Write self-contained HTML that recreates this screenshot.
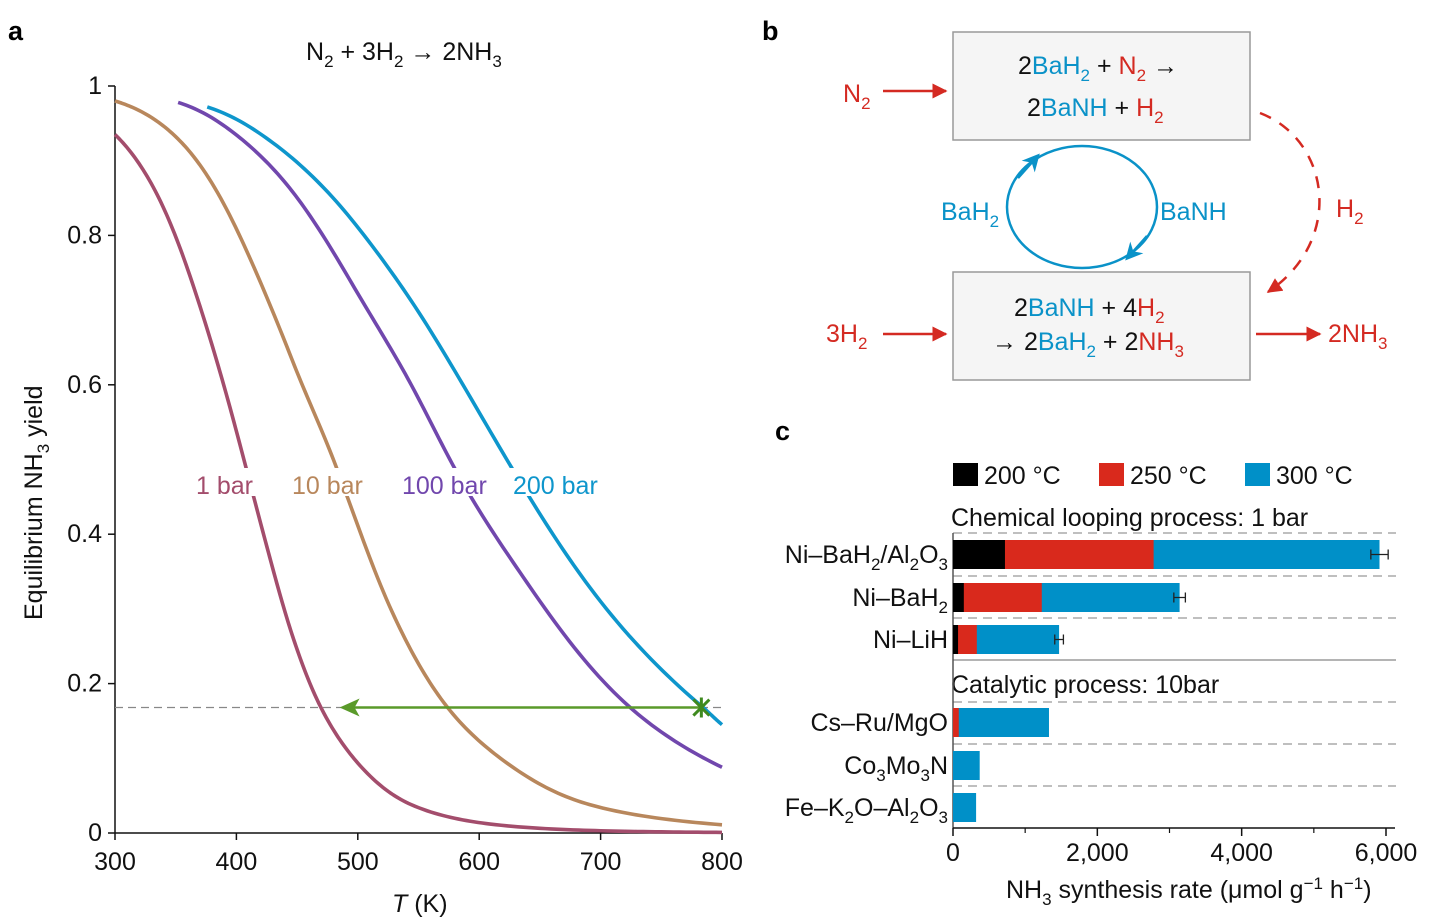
<!DOCTYPE html>
<html><head><meta charset="utf-8"><style>
body{margin:0;background:#fff}
svg{display:block;font-family:"Liberation Sans",Arial,sans-serif}
.t{font-size:25px;fill:#111}
.sb{font-size:17px}
</style></head><body>
<svg id="fig" width="1432" height="924" viewBox="0 0 1432 924">
<defs>
<marker id="ar" viewBox="0 0 10 10" refX="9" refY="5" markerWidth="6" markerHeight="6" orient="auto"><path d="M0,0L10,5L0,10z" fill="#d42a22"/></marker>
<marker id="ab" viewBox="0 0 10 10" refX="5" refY="5" markerWidth="7" markerHeight="7" orient="auto"><path d="M0,0L10,5L0,10L3,5z" fill="#0a92c8"/></marker>
</defs>
<text x="8" y="40" style="font-size:27px;font-weight:bold">a</text>
<text x="762" y="40" style="font-size:27px;font-weight:bold">b</text>
<text x="775" y="440" style="font-size:27px;font-weight:bold">c</text>

<g id="pa">
<text class="t" x="306" y="60">N<tspan class="sb" dy="7">2</tspan><tspan dy="-7"> + 3H</tspan><tspan class="sb" dy="7">2</tspan><tspan dy="-7"> → 2NH</tspan><tspan class="sb" dy="7">3</tspan></text>
<g id="axA"></g>
<text class="t" transform="translate(42,620) rotate(-90)">Equilibrium NH<tspan class="sb" dy="7">3</tspan><tspan dy="-7"> yield</tspan></text>
<text class="t" x="392" y="912"><tspan font-style="italic">T</tspan> (K)</text>
<g id="curves"></g>
</g>

<g>
<rect x="953" y="32" width="297" height="108" fill="#f5f5f5" stroke="#999" stroke-width="1.5"/>
<rect x="953" y="272" width="297" height="108" fill="#f5f5f5" stroke="#999" stroke-width="1.5"/>
<text class="t" x="1018" y="74">2<tspan fill="#0a92c8">BaH</tspan><tspan class="sb" fill="#0a92c8" dy="7">2</tspan><tspan dy="-7"> + </tspan><tspan fill="#d42a22">N</tspan><tspan class="sb" fill="#d42a22" dy="7">2</tspan><tspan dy="-7"> →</tspan></text>
<text class="t" x="1027" y="116">2<tspan fill="#0a92c8">BaNH</tspan> + <tspan fill="#d42a22">H</tspan><tspan class="sb" fill="#d42a22" dy="7">2</tspan></text>
<text class="t" x="1014" y="316">2<tspan fill="#0a92c8">BaNH</tspan> + 4<tspan fill="#d42a22">H</tspan><tspan class="sb" fill="#d42a22" dy="7">2</tspan></text>
<text class="t" x="992" y="350">→ 2<tspan fill="#0a92c8">BaH</tspan><tspan class="sb" fill="#0a92c8" dy="7">2</tspan><tspan dy="-7"> + 2</tspan><tspan fill="#d42a22">NH</tspan><tspan class="sb" fill="#d42a22" dy="7">3</tspan></text>
<text class="t" x="843" y="102" style="fill:#d42a22">N<tspan class="sb" dy="7">2</tspan></text>
<line x1="883" y1="91" x2="946" y2="91" stroke="#d42a22" stroke-width="2.5" marker-end="url(#ar)"/>
<text class="t" x="826" y="342" style="fill:#d42a22">3H<tspan class="sb" dy="7">2</tspan></text>
<line x1="883" y1="334" x2="946" y2="334" stroke="#d42a22" stroke-width="2.5" marker-end="url(#ar)"/>
<line x1="1256" y1="334" x2="1320" y2="334" stroke="#d42a22" stroke-width="2.5" marker-end="url(#ar)"/>
<text class="t" x="1328" y="342" style="fill:#d42a22">2NH<tspan class="sb" dy="7">3</tspan></text>
<path d="M1260,113 C1330,140 1345,240 1268,292" fill="none" stroke="#d42a22" stroke-width="2.5" stroke-dasharray="12,10" marker-end="url(#ar)"/>
<rect x="1332" y="190" width="40" height="40" fill="#fff"/>
<text class="t" x="1336" y="217" style="fill:#d42a22">H<tspan class="sb" dy="7">2</tspan></text>
<ellipse cx="1082" cy="207" rx="75" ry="61" fill="none" stroke="#0a92c8" stroke-width="2.5"/>
<path d="M1018,178 L1034,160" stroke="#0a92c8" stroke-width="2.5" marker-end="url(#ab)"/>
<path d="M1147,236 L1131,254" stroke="#0a92c8" stroke-width="2.5" marker-end="url(#ab)"/>
<text class="t" x="941" y="220" style="fill:#0a92c8">BaH<tspan class="sb" dy="7">2</tspan></text>
<text class="t" x="1160" y="220" style="fill:#0a92c8">BaNH</text>
</g>

<g id="pc">
<rect x="953" y="463" width="25" height="23" fill="#000"/>
<text class="t" x="984" y="484">200 °C</text>
<rect x="1099" y="463" width="25" height="23" fill="#d9291c"/>
<text class="t" x="1130" y="484">250 °C</text>
<rect x="1245" y="463" width="25" height="23" fill="#0090c8"/>
<text class="t" x="1276" y="484">300 °C</text>
<text class="t" x="951" y="526">Chemical looping process: 1 bar</text>
<text class="t" x="951" y="693">Catalytic process: 10bar</text>
<g id="barsC"></g>
<text class="t" x="1006" y="898">NH<tspan class="sb" dy="7">3</tspan><tspan dy="-7"> synthesis rate (μmol g</tspan><tspan class="sb" dy="-9">−1</tspan><tspan dy="9"> h</tspan><tspan class="sb" dy="-9">−1</tspan><tspan dy="9">)</tspan></text>
</g>
</svg>
<script>
const xTicksA = [300,400,500,600,700,800];
const yTicksA = [0,0.2,0.4,0.6,0.8,1];
const yTickLabelsA = ["0","0.2","0.4","0.6","0.8","1"];
const T1 = [300,333,365,398,424,447,469,502,544,609,700,800];
const Y1 = [0.935,0.86,0.73,0.55,0.39,0.26,0.17,0.09,0.038,0.012,0.003,0.0008];
const T10 = [300,355,404,446,482,528,573,626,691,800];
const Y10 = [0.98,0.924,0.795,0.633,0.491,0.297,0.17,0.09,0.038,0.011];
const T100 = [352,398,446,495,544,586,642,723,800];
const Y100 = [0.978,0.937,0.859,0.736,0.6,0.47,0.329,0.17,0.088];
const T200 = [376,430,495,560,626,691,783,800];
const Y200 = [0.972,0.924,0.821,0.672,0.491,0.329,0.17,0.145];
const seriesNames = ["1 bar","10 bar","100 bar","200 bar"];
const refYield = 0.168;
const arrowFromT = 783, arrowToT = 485;

const NS="http://www.w3.org/2000/svg";
function mk(tag, attrs, parent, txt){const e=document.createElementNS(NS,tag);for(const k in attrs)e.setAttribute(k,attrs[k]);if(txt!==undefined)e.textContent=txt;parent.appendChild(e);return e;}
const xA = t => 115 + (t-300)/500*607;
const yA = v => 833 - v*747;

const axA=document.getElementById('axA');
let l=mk('line',{x1:115,y1:86,x2:115,y2:833,stroke:'#111','stroke-width':1.5},axA);


l=mk('line',{x1:115,y1:833,x2:722,y2:833,stroke:'#111','stroke-width':1.5},axA);


xTicksA.forEach(t=>{
  mk('line',{x1:xA(t),y1:833,x2:xA(t),y2:840,stroke:'#111','stroke-width':1.5},axA);
  const tx=mk('text',{x:xA(t),y:870,'text-anchor':'middle',class:'t'},axA,String(t));
  
  
});
yTicksA.forEach((v,i)=>{
  mk('line',{x1:108,y1:yA(v),x2:115,y2:yA(v),stroke:'#111','stroke-width':1.5},axA);
  const tx=mk('text',{x:102,y:yA(v)+8,'text-anchor':'end',class:'t'},axA,yTickLabelsA[i]);
  
  
});
const cg=document.getElementById('curves');
let dl=mk('line',{x1:115,y1:yA(refYield),x2:722,y2:yA(refYield),stroke:'#888','stroke-width':1.2,'stroke-dasharray':'8,5'},cg);


const cols=['#a34d6c','#b8875c','#7147ad','#0e96cc'];
const Ts=[T1,T10,T100,T200], Ys=[Y1,Y10,Y100,Y200];
const labelX=[196,292,402,513];
const logit=v=>Math.log(v/(1-v)), inv=z=>1/(1+Math.exp(-z));
function smoothPath(T,Y){
  const z=Y.map(logit), n=T.length, m=[];
  for(let i=0;i<n;i++){const a=Math.max(0,i-1),b=Math.min(n-1,i+1);m[i]=(z[b]-z[a])/(T[b]-T[a]);}
  let d='';
  for(let i=0;i<n-1;i++){const h=T[i+1]-T[i];
    for(let k=0;k<=20;k++){if(i>0&&k===0)continue;const u=k/20,u2=u*u,u3=u2*u;
      const zz=(2*u3-3*u2+1)*z[i]+(u3-2*u2+u)*h*m[i]+(-2*u3+3*u2)*z[i+1]+(u3-u2)*h*m[i+1];
      d+=(d?' L':'M')+xA(T[i]+u*h).toFixed(2)+','+yA(inv(zz)).toFixed(2);}
  }
  return d;}
Ts.forEach((T,s)=>{
  const p=mk('path',{d:smoothPath(T,Ys[s]),fill:'none',stroke:cols[s],'stroke-width':3.6,'stroke-linejoin':'round'},cg);
  
  
  mk('rect',{x:labelX[s]-4,y:468,width:seriesNames[s].length*13.8+6,height:28,fill:'#fff'},cg);
  const tx=mk('text',{x:labelX[s],y:494,class:'t',style:'fill:'+cols[s]},cg,seriesNames[s]);
  
  
});
let ar=mk('path',{d:`M${xA(arrowFromT)},${yA(refYield)} L${xA(arrowToT)+14},${yA(refYield)}`,stroke:'#5a9a2a','stroke-width':2.5},cg);


mk('path',{d:`M${xA(arrowToT)},${yA(refYield)} l20,-9 l-5,9 l5,9z`,fill:'#5a9a2a'},cg);
const sx=xA(arrowFromT), sy=yA(refYield);
let st=mk('path',{d:`M${sx-8},${sy-8}L${sx+8},${sy+8}M${sx+8},${sy-8}L${sx-8},${sy+8}M${sx},${sy-10}L${sx},${sy+10}`,stroke:'#3f8a1f','stroke-width':3},cg);



const catalysts = ["Ni–BaH2/Al2O3","Ni–BaH2","Ni–LiH","Cs–Ru/MgO","Co3Mo3N","Fe–K2O–Al2O3"];
const rate200 = [720,150,70,0,0,0];
const rate250 = [2780,1230,330,80,0,0];
const rate300 = [5910,3140,1470,1330,370,320];
const err300 = [120,80,60,0,0,0];
const xTicksC = [0,2000,4000,6000];
const xTickLabelsC = ["0","2,000","4,000","6,000"];
const labelsHTML = [
 'Ni–BaH<tspan class="sb" dy="7">2</tspan><tspan dy="-7">/Al</tspan><tspan class="sb" dy="7">2</tspan><tspan dy="-7">O</tspan><tspan class="sb" dy="7">3</tspan>',
 'Ni–BaH<tspan class="sb" dy="7">2</tspan>',
 'Ni–LiH',
 'Cs–Ru/MgO',
 'Co<tspan class="sb" dy="7">3</tspan><tspan dy="-7">Mo</tspan><tspan class="sb" dy="7">3</tspan><tspan dy="-7">N</tspan>',
 'Fe–K<tspan class="sb" dy="7">2</tspan><tspan dy="-7">O–Al</tspan><tspan class="sb" dy="7">2</tspan><tspan dy="-7">O</tspan><tspan class="sb" dy="7">3</tspan>'
];
const xC = v => 953 + v/6000*433;
const rowTop=[540,583,625,708,751,793];
const bc=document.getElementById('barsC');
[533,576,618,702,744,786].forEach(y=>mk('line',{x1:953,y1:y,x2:1396,y2:y,stroke:'#999','stroke-width':1.2,'stroke-dasharray':'9,6'},bc));
let fr=mk('line',{x1:953,y1:660,x2:1396,y2:660,stroke:'#888','stroke-width':1.2},bc);


mk('line',{x1:953,y1:533,x2:953,y2:828,stroke:'#555','stroke-width':1.5},bc);
catalysts.forEach((c,i)=>{
  const y=rowTop[i], h=29;
  [[rate300,'#0090c8','300'],[rate250,'#d9291c','250'],[rate200,'#000','200']].forEach(([arr,col,nm])=>{
    if(arr[i]>0){const r=mk('rect',{x:953,y:y,width:xC(arr[i])-953,height:h,fill:col},bc);
    
    }
  });
  if(err300[i]>0){const a=xC(rate300[i]-err300[i]),b=xC(rate300[i]+err300[i]),m=y+h/2;
    const e=mk('path',{d:`M${a},${m}H${b}M${a},${m-5}V${m+5}M${b},${m-5}V${m+5}`,stroke:'#222','stroke-width':1.3,fill:'none'},bc);
    
    }
  const t=mk('text',{x:948,y:y+23,'text-anchor':'end',class:'t'},bc);
  t.innerHTML=labelsHTML[i];
  
  
});
let xa=mk('line',{x1:953,y1:828,x2:1395,y2:828,stroke:'#111','stroke-width':1.5},bc);


[1000,3000,5000].forEach(v=>mk('line',{x1:xC(v),y1:828,x2:xC(v),y2:833,stroke:'#111','stroke-width':1.2},bc));
xTicksC.forEach((v,i)=>{
  mk('line',{x1:xC(v),y1:828,x2:xC(v),y2:836,stroke:'#111','stroke-width':1.5},bc);
  const t=mk('text',{x:xC(v),y:861,'text-anchor':'middle',class:'t'},bc,xTickLabelsC[i]);
  
  
});
</script>
</body></html>
